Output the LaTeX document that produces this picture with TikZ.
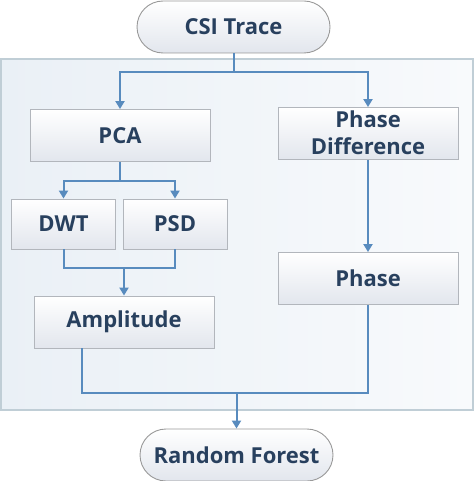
\documentclass[tikz,border=0pt]{standalone}
\usepackage{fontspec}
\setmainfont{Open Sans}
\usepackage{tikz}
\usetikzlibrary{arrows.meta,calc}
\definecolor{cArrow}{RGB}{88,139,190}
\definecolor{cText}{RGB}{40,64,94}
\definecolor{cEdge}{RGB}{178,182,188}
\definecolor{cShade}{RGB}{226,230,237}
\definecolor{cPanel}{RGB}{234,240,246}
\definecolor{cPanelLight}{RGB}{248,250,252}
\definecolor{cPanelEdge}{RGB}{192,206,214}

\begin{document}
\begin{tikzpicture}[
  x=1pt,y=-1pt,
  box/.style={draw=cEdge,line width=0.9pt,top color=white,bottom color=cShade,
              text=cText,font=\fontsize{22}{25}\selectfont\bfseries,
              inner sep=0pt,align=center},
  term/.style={box,rounded corners=26pt,draw=black!40,minimum width=193pt,minimum height=52pt},
  proc/.style={box,minimum width=180pt,minimum height=52pt},
  half/.style={box,minimum width=104pt,minimum height=50pt},
  link/.style={cArrow,line width=2pt},
  flow/.style={link,-{Triangle[length=8pt,width=9pt]}},
]
\useasboundingbox (0,0) rectangle (474,481);
% background panel
\draw[left color=cPanel,right color=cPanelLight,draw=cPanelEdge,line width=1.2pt] (1,59) rectangle (473,410);
% start and end
\node[term] (csi) at (233.5,27) {CSI Trace};
\node[term] (rf) at (236.5,455) {Random Forest};
% amplitude branch
\node[proc] (pca) at (120,135.5) {PCA};
\node[half] (dwt) at (63.5,224) {DWT};
\node[half] (psd) at (175,224) {PSD};
\node[proc] (amp) at (124,322) {Amplitude};
% phase branch
\node[proc,text depth=2pt,font=\fontsize{22}{27}\selectfont\bfseries] (phd) at (368,133.5) {Phase\\Difference};
\node[proc] (pha) at (368,278.5) {Phase};
% connectors
\draw[flow] (csi.south) -- ++(0,19) -| (pca.north);
\draw[flow] (csi.south) -- ++(0,19) -| (phd.north);
\draw[flow] (pca.south) -- ++(0,19) -| (dwt.north);
\draw[flow] (pca.south) -- ++(0,19) -| (psd.north);
\coordinate (m1) at ($(dwt.south)+(0,19)$);
\draw[link] (dwt.south) -- (m1) -| (psd.south);
\draw[flow] (amp.north |- m1) -- (amp.north);
\draw[flow] (phd.south) -- (pha.north);
\coordinate (m2) at ($(amp.south)+(-42,45)$);
\draw[link] ([xshift=-42pt]amp.south) -- (m2) -| (pha.south);
\draw[flow] (rf.north |- m2) -- (rf.north);
\end{tikzpicture}
\end{document}
